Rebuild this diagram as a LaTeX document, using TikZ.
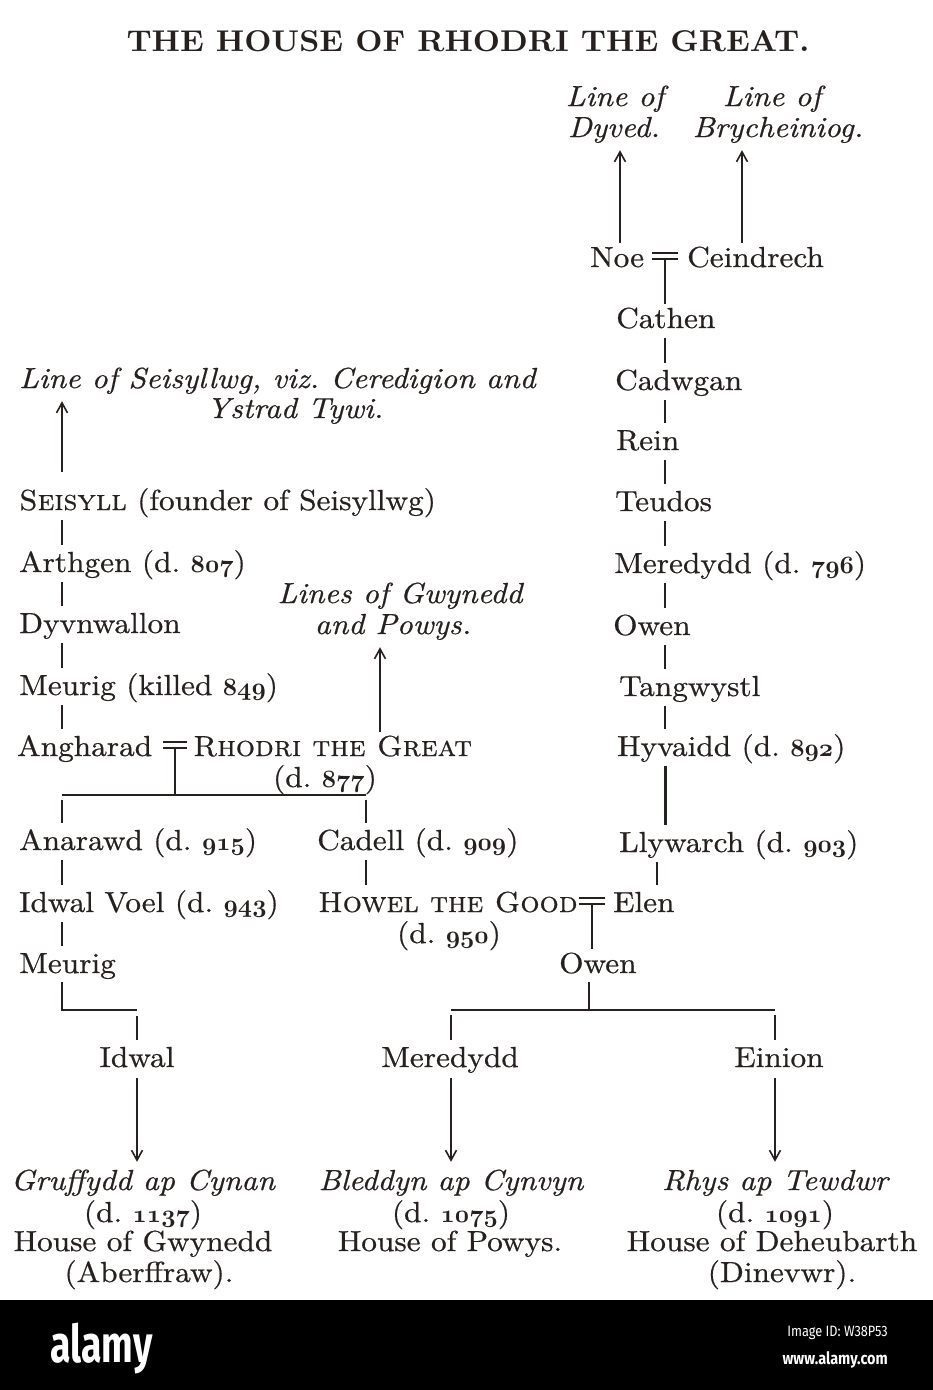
\documentclass[tikz,border=0pt]{standalone}
\usepackage{fontspec}
\setmainfont{lmroman10-regular.otf}[
  UprightFeatures={FakeStretch=1.08, FakeBold=0.6},
  BoldFont=lmroman10-bold.otf, BoldFeatures={FakeStretch=1.05},
  ItalicFont=lmroman10-italic.otf, ItalicFeatures={FakeStretch=1.08, FakeBold=0.6},
  SmallCapsFont=lmromancaps10-regular.otf, SmallCapsFeatures={FakeStretch=1.04, FakeBold=0.6}]
\newfontfamily\wmfont{Fira Sans}
\usetikzlibrary{arrows.meta}
\definecolor{ink}{RGB}{38,32,30}
\newcommand\bodyfont{\fontsize{29}{31}\selectfont\frenchspacing}
\newcommand\osn[1]{{\usefont{OML}{cmm}{b}{it}#1}}
\begin{document}
\begin{tikzpicture}[x=1pt,y=-1pt,
  nm/.style={inner sep=2pt, text height=22pt, text depth=7pt, anchor=base west, font=\bodyfont, text=ink},
  nc/.style={nm, anchor=base},
  itl/.style={nc, font=\bodyfont\itshape},
  ln/.style={draw=ink, line width=1.4pt},
  vl/.style={ln, shorten <=1pt, shorten >=3pt},
  arr/.style={draw=ink, line width=1.8pt, shorten >=4pt, -{Straight Barb[length=10pt,width=11pt,line width=1.6pt]}},
  wm/.style={anchor=base east, inner sep=0pt, text=white}
]
\fill[white] (0,0) rectangle (933,1300);
\fill[black] (0,1300) rectangle (933,1390);
\useasboundingbox (0,0) rectangle (933,1390);

% title
\node[anchor=base, inner sep=0pt, text=ink, font=\fontsize{30}{32}\selectfont\bfseries] (title) at (468,51) {THE HOUSE OF RHODRI THE GREAT.};

% column coordinates
\coordinate (xl) at (62,0);
\coordinate (xr) at (665,0);
\coordinate (xa) at (620,0);
\coordinate (xb) at (742,0);
\coordinate (xg) at (380,0);
\coordinate (xe) at (657,0);
\coordinate (xo) at (589,0);
\coordinate (xc) at (366,0);

% ---- right side: line of Dyved
\node[itl] (dy1) at (615,106) {Line of};
\node[itl] (dy2) at (614,137) {Dyved.};
\node[itl] (br1) at (772,106) {Line of};
\node[itl] (br2) at (778,137) {Brycheiniog.};

\node[nm] (noe) at (588,267) {Noe};
\node[nm] (ceindrech) at (685,267) {Ceindrech};
\coordinate (m1) at (665,259);
\draw[ln] (m1) ++(-13,-6) -- ++(26,0);
\draw[ln] (m1) ++(-13,0) -- ++(26,0);
\draw[arr] (noe.north -| xa) -- (dy2.south -| xa);
\draw[arr] (ceindrech.north -| xb) -- (br2.south -| xb);

\node[nm] (cathen) at (614,328) {Cathen};
\node[nm] (cadwgan) at (613,390) {Cadwgan};
\node[nm] (rein) at (614,450) {Rein};
\node[nm] (teudos) at (613,511) {Teudos};
\node[nm] (meredyddA) at (612,573) {Meredydd (d. \osn{796})};
\node[nm] (owenA) at (611,635) {Owen};
\node[nm] (tangwystl) at (617,696) {Tangwystl};
\node[nm] (hyvaidd) at (615,756) {Hyvaidd (d. \osn{892})};
\node[nm] (llywarch) at (617,852) {Llywarch (d. \osn{903})};

\draw[ln] (m1) -- (cathen.north -| m1);
\draw[vl] (cathen.south -| xr) -- (cadwgan.north -| xr);
\draw[vl] (cadwgan.south -| xr) -- (rein.north -| xr);
\draw[vl] (rein.south -| xr) -- (teudos.north -| xr);
\draw[vl] (teudos.south -| xr) -- (meredyddA.north -| xr);
\draw[vl] (meredyddA.south -| xr) -- (owenA.north -| xr);
\draw[vl] (owenA.south -| xr) -- (tangwystl.north -| xr);
\draw[vl] (tangwystl.south -| xr) -- (hyvaidd.north -| xr);
\draw[vl, line width=3pt] (hyvaidd.south -| xr) -- (llywarch.north -| xr);

% ---- left side: line of Seisyllwg
\node[itl, anchor=base west] (seis1) at (17,388) {Line of Seisyllwg, viz. Ceredigion and};
\node[itl] (seis2) at (295,418) {Ystrad Tywi.};
\node[nm] (seisyll) at (17,510) {\textsc{Seisyll} (founder of Seisyllwg)};
\node[nm] (arthgen) at (17,572) {Arthgen (d. \osn{807})};
\node[nm] (dyvnwallon) at (17,633) {Dyvnwallon};
\node[nm] (meurigA) at (17,695) {Meurig (killed \osn{849})};
\node[itl] (gwyn1) at (400,603) {Lines of Gwynedd};
\node[itl] (gwyn2) at (393,634) {and Powys.};

\draw[arr, shorten <=14pt] (seisyll.north -| xl) -- (seis1.south -| xl);
\draw[vl] (seisyll.south -| xl) -- (arthgen.north -| xl);
\draw[vl] (arthgen.south -| xl) -- (dyvnwallon.north -| xl);
\draw[vl] (dyvnwallon.south -| xl) -- (meurigA.north -| xl);

\node[nm] (angharad) at (15,756) {Angharad};
\node[nm] (rhodri) at (191,756) {\textsc{Rhodri the Great}};
\node[nc] (rhodriD) at (325,787) {(d. \osn{877})};
\draw[vl] (meurigA.south -| xl) -- (angharad.north -| xl);
\coordinate (m2) at (175,748);
\draw[ln] (m2) ++(-12,-6) -- ++(24,0);
\draw[ln] (m2) ++(-12,0) -- ++(24,0);
\draw[arr] (rhodri.north -| xg) -- (gwyn2.south -| xg);

\coordinate (bar2L) at (62,795);
\coordinate (bar2R) at (366,795);
\draw[ln] (m2) -- (m2 |- bar2L);
\draw[ln] (bar2L) -- (bar2R);

\node[nm] (anarawd) at (17,850) {Anarawd (d. \osn{915})};
\node[nm] (cadell) at (315,850) {Cadell (d. \osn{909})};
\draw[vl, shorten <=5pt] (bar2L) -- (anarawd.north -| bar2L);
\draw[vl, shorten <=5pt] (bar2R) -- (cadell.north -| bar2R);

\node[nm] (idwalvoel) at (17,912) {Idwal Voel (d. \osn{943})};
\node[nm] (howel) at (316,912) {\textsc{Howel the Good}};
\node[nc] (howelD) at (449,943) {(d. \osn{950})};
\node[nm] (elen) at (611,912) {Elen};
\draw[vl] (anarawd.south -| xl) -- (idwalvoel.north -| xl);
\draw[vl] (cadell.south -| xc) -- (howel.north -| xc);
\draw[vl] (llywarch.south -| xe) -- (elen.north -| xe);
\coordinate (m3) at (592,904);
\draw[ln] (m3) ++(-13,-6) -- ++(26,0);
\draw[ln] (m3) ++(-13,0) -- ++(26,0);

\node[nm] (meurigB) at (17,973) {Meurig};
\node[nm] (owenB) at (557,973) {Owen};
\draw[vl] (idwalvoel.south -| xl) -- (meurigB.north -| xl);
\draw[ln] (m3) -- (owenB.north -| m3);

% ---- third generation bars
\coordinate (bar1R) at (137,1010);
\coordinate (bar3L) at (451,1010);
\coordinate (bar3R) at (775,1010);
\draw[ln] (meurigB.south -| xl) |- (bar1R);
\draw[ln] (owenB.south -| xo) -- (bar3L -| xo);
\draw[ln] (bar3L) -- (bar3R);

\node[nc] (idwal) at (137,1067) {Idwal};
\node[nc] (meredyddB) at (450,1067) {Meredydd};
\node[nc] (einion) at (779,1067) {Einion};
\draw[vl, shorten <=6pt] (bar1R) -- (idwal.north -| bar1R);
\draw[vl, shorten <=5pt] (bar3L) -- (meredyddB.north -| bar3L);
\draw[vl, shorten <=5pt] (bar3R) -- (einion.north -| bar3R);

% ---- bottom houses
\node[itl] (gruff) at (143,1190) {Gruffydd ap Cynan};
\node[nc] (gruffD) at (143,1222) {(d. \osn{1137})};
\node[nc] (gruffH) at (143,1251) {House of Gwynedd};
\node[nc] (gruffA) at (149,1282) {(Aberffraw).};

\node[itl] (bled) at (451,1190) {Bleddyn ap Cynvyn};
\node[nc] (bledD) at (451,1222) {(d. \osn{1075})};
\node[nc] (bledH) at (450,1251) {House of Powys.};

\node[itl] (rhys) at (775,1190) {Rhys ap Tewdwr};
\node[nc] (rhysD) at (775,1222) {(d. \osn{1091})};
\node[nc] (rhysH) at (772,1251) {House of Deheubarth};
\node[nc] (rhysA) at (782,1282) {(Dinevwr).};

\draw[arr, shorten <=2pt] (idwal.south -| bar1R) -- (gruff.north -| bar1R);
\draw[arr, shorten <=2pt] (meredyddB.south -| bar3L) -- (bled.north -| bar3L);
\draw[arr, shorten <=2pt] (einion.south -| bar3R) -- (rhys.north -| bar3R);

% ---- watermark band
\node[anchor=base west, inner sep=0pt, text=white, font=\wmfont\bfseries\fontsize{52}{52}\selectfont] (alamy) at (50,1362) {\scalebox{0.72}[1]{alamy}};
\node[wm, font=\wmfont\fontsize{15}{15}\selectfont] (imgid) at (888,1336) {\scalebox{0.85}[1]{Image ID: W38P53}};
\node[wm, font=\wmfont\bfseries\fontsize{17}{17}\selectfont] (www) at (888,1364) {\scalebox{0.85}[1]{www.alamy.com}};
\end{tikzpicture}
\end{document}
